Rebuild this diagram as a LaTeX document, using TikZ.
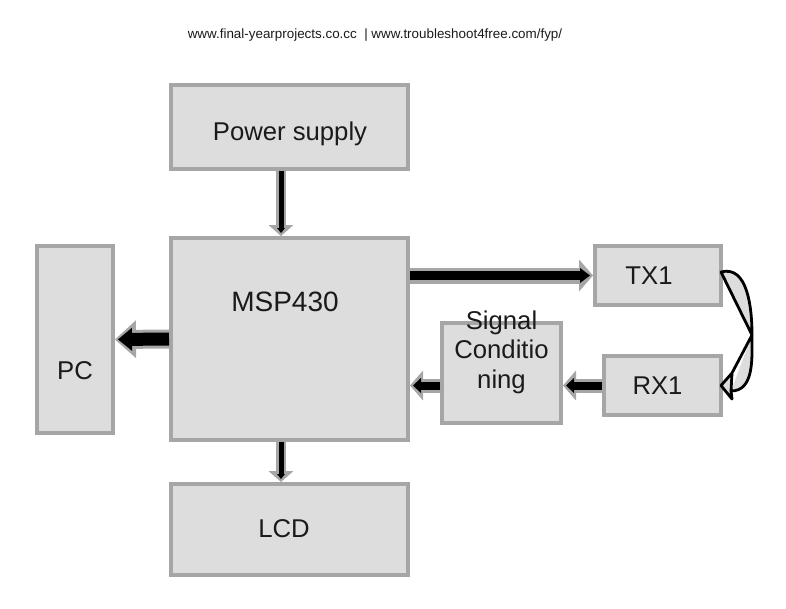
\documentclass[tikz,border=0pt]{standalone}
\usepackage{fontspec}
\setmainfont{Liberation Sans}
\usetikzlibrary{arrows.meta}
\definecolor{gray200}{HTML}{DDDDDD}
\definecolor{gray400}{HTML}{A6A6A6}
\definecolor{ink}{HTML}{1A1A1A}
\tikzstyle{bloco}=[rectangle, draw=gray400, fill=gray200, line width=4pt, outer sep=0pt, inner sep=0pt, text=ink, font=\fontsize{25.7}{29}\selectfont, align=center]
\tikzstyle{rotulo}=[text=ink, font=\fontsize{25.7}{29.5}\selectfont, align=center]
\tikzstyle{laco}=[draw=black, fill=gray200, line width=2.8pt, line join=round]
\tikzset{
	fundo/.style={draw=gray400, shorten <=2pt, shorten >=2pt},
	frente/.style={draw=black, shorten <=2pt, shorten >=5pt},
	finafundo/.style={fundo, line width=10pt, -{Triangle[length=11pt,width=25pt,line width=0pt]}},
	finafrente/.style={frente, line width=5pt, -{Triangle[length=5pt,width=8pt,line width=0pt]}},
	mediafundo/.style={fundo, line width=14pt, -{Triangle[length=13pt,width=30pt,line width=0pt]}},
	mediafrente/.style={frente, line width=8pt, -{Triangle[length=8pt,width=15pt,line width=0pt]}},
	largafundo/.style={fundo, line width=16pt, -{Triangle[length=14pt,width=32pt,line width=0pt]}},
	largafrente/.style={frente, line width=9pt, -{Triangle[length=10pt,width=15pt,line width=0pt]}},
	grossafundo/.style={fundo, line width=19pt, -{Triangle[length=21pt,width=38pt,line width=0pt]}},
	grossafrente/.style={frente, line width=13pt, -{Triangle[length=14pt,width=23pt,line width=0pt]}}
}
\newcommand{\seta}[3]{
	\path[#1fundo] #2 -- #3;
	\path[#1frente] #2 -- #3;
}

\begin{document}
\begin{tikzpicture}[x=1pt,y=-1pt]
	\useasboundingbox (0,0) rectangle (786,608);
	\node[font=\fontsize{13.4}{15}\selectfont, text=ink] (site) at (375,35) {www.final-yearprojects.co.cc\ \ | www.troubleshoot4free.com/fyp/};
	\node[bloco, minimum width=237pt, minimum height=84pt, label={[name=powertext, rotulo, xshift=0.5pt, yshift=-7pt]center:Power supply}] (power) at (289.5,127) {};
	\node[bloco, minimum width=237pt, minimum height=202pt, label={[name=msptext, rotulo, font=\fontsize{28}{32}\selectfont, xshift=-4.5pt, yshift=37pt]center:MSP430}] (msp) at (289.5,339) {};
	\node[bloco, minimum width=76pt, minimum height=187pt, label={[name=pctext, rotulo, yshift=-31pt]center:PC}] (pc) at (75,339.5) {};
	\node[bloco, minimum width=237pt, minimum height=91pt, label={[name=lcdtext, rotulo, xshift=-5.5pt, yshift=1pt]center:LCD}] (lcd) at (289.5,529.5) {};
	\node[bloco, minimum width=126pt, minimum height=59pt, label={[name=txtext, rotulo, xshift=-9pt]center:TX1}] (tx1) at (658,275.5) {};
	\node[bloco, minimum width=117pt, minimum height=59pt, label={[name=rxtext, rotulo, xshift=-5pt]center:RX1}] (rx1) at (662.5,385.5) {};
	\node[bloco, minimum width=119pt, minimum height=100pt] (cond) at (501.5,373) {};
	\node[rotulo] (condtext) at (501.5,352) {Signal\\Conditio\\ning};
	\coordinate (apice) at (752,335);
	\seta{fina}{([xshift=-8.5pt]power.south)}{([xshift=-8.5pt]msp.north)}
	\seta{fina}{([xshift=-8.5pt]msp.south)}{([xshift=-8.5pt]lcd.north)}
	\seta{grossa}{(msp.west)}{(pc.east)}
	\seta{larga}{(msp.east |- tx1.west)}{(tx1.west)}
	\seta{media}{(cond.west |- rx1.west)}{(msp.east |- rx1.west)}
	\seta{media}{(rx1.west)}{(cond.east |- rx1.west)}
	\path[laco] ([yshift=3.5pt]tx1.east) to[out=15, in=90] (apice) -- cycle;
	\path[laco] (apice) to[out=-90, in=0] (731,391) -- (732,399) -- (rx1.east) -- (732,373) -- (731,391) (732,373) -- (apice);
\end{tikzpicture}
\end{document}
